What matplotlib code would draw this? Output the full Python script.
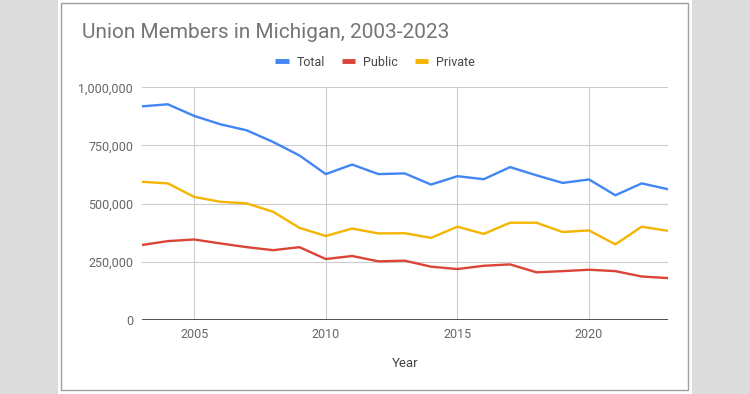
import matplotlib.pyplot as plt
from matplotlib.patches import Rectangle
from matplotlib.lines import Line2D
from matplotlib.ticker import FuncFormatter

plt.rcParams['font.family'] = ['Roboto', 'DejaVu Sans']

years = list(range(2003, 2024))
total = [918000, 927000, 877000, 841000, 815000, 765000, 707000, 627000, 668000, 627000,
         630000, 582000, 618000, 605000, 657000, 622000, 589000, 604000, 536000, 587000, 562000]
public = [322000, 339000, 346000, 329000, 313000, 300000, 313000, 262000, 275000, 252000,
          255000, 229000, 219000, 233000, 239000, 205000, 210000, 216000, 210000, 187000, 180000]
private = [594000, 587000, 529000, 508000, 501000, 465000, 396000, 361000, 393000, 372000,
           373000, 353000, 401000, 370000, 418000, 418000, 378000, 385000, 325000, 401000, 383000]

series_names = ['Total', 'Public', 'Private']
colors = ['#4285F4', '#DB4437', '#F4B400']

W, H = 750, 394
fig = plt.figure(figsize=(W / 100, H / 100), dpi=100, facecolor='white')

# spreadsheet background around the chart
fig.add_artist(Rectangle((0, 0), 58 / W, 1, transform=fig.transFigure,
                         facecolor='#dcdcdc', edgecolor='none', zorder=-3))
fig.add_artist(Rectangle((692 / W, 0), (W - 692) / W, 1, transform=fig.transFigure,
                         facecolor='#dcdcdc', edgecolor='none', zorder=-3))
fig.add_artist(Rectangle((61 / W, 1 - 390 / H), (688 - 61) / W, (390 - 3) / H,
                         transform=fig.transFigure, facecolor='white',
                         edgecolor='#9e9e9e', linewidth=1.0, zorder=-2))

ax = fig.add_axes([141.5 / W, 1 - 320 / H, (668 - 141.5) / W, (320 - 87.3) / H])
ax.set_zorder(1)
ax.set_facecolor('none')

for vals, c in zip([total, public, private], colors):
    ax.plot(years, vals, color=c, linewidth=1.7, zorder=3)

ax.set_xlim(2003, 2023)
ax.set_ylim(0, 1000000)
ax.set_xticks([2005, 2010, 2015, 2020])
ax.set_yticks([0, 250000, 500000, 750000, 1000000])
ax.yaxis.set_major_formatter(FuncFormatter(lambda v, p: f"{int(v):,}"))
ax.grid(True, color='#cccccc', linewidth=0.8, zorder=0)
ax.axhline(0, color='#333333', linewidth=1.2, zorder=4)
for s in ax.spines.values():
    s.set_visible(False)
ax.tick_params(length=0, labelsize=9, labelcolor='#666666')
ax.tick_params(axis='y', pad=6)
ax.tick_params(axis='x', pad=6)
ax.set_xlabel('Year', fontsize=9.5, color='#444444', labelpad=11)

fig.text(82 / W, 1 - 33 / H, 'Union Members in Michigan, 2003-2023', fontsize=15,
         color='#757575', va='center', ha='left')

handles = [Line2D([0], [0], color=c, linewidth=3.5, solid_capstyle='butt') for c in colors]
fig.legend(handles, series_names, loc='center', bbox_to_anchor=(375 / W, 1 - 62 / H),
           ncol=3, frameon=False, fontsize=9, handlelength=1.1, handletextpad=0.6,
           columnspacing=1.35, labelcolor='#444444')

fig.savefig('out.png', dpi=100, facecolor='white')
